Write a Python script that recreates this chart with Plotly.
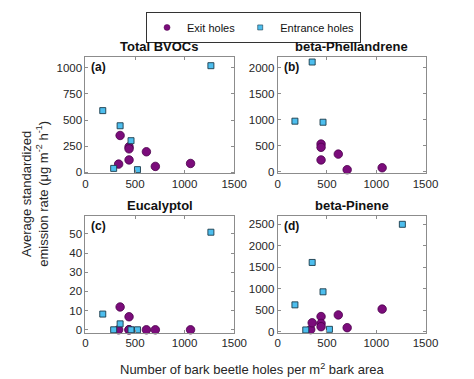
import plotly.graph_objects as go

exit_x = [335, 350, 440, 440, 440, 615, 705, 1060]
entr_x = [175, 285, 350, 460, 525, 1265]

exit_a = [78, 352, 243, 224, 118, 196, 56, 84]
entr_a = [590, 37, 445, 302, 25, 1020]

exit_b = [None, None, 536, 473, 231, 343, 44, 81]
entr_b = [975, None, 2110, 955, None, None]

exit_c = [0, 11.9, 6.8, 0, 0, 0, 0, 0]
entr_c = [8.2, 0, 3.1, 0, 0, 50.9]

exit_d = [46, 205, 350, 190, 114, 388, 91, 524]
entr_d = [623, 38, 1611, 927, 53, 2500]

titles = ["Total BVOCs", "beta-Phellandrene", "Eucalyptol", "beta-Pinene"]
labels = ["(a)", "(b)", "(c)", "(d)"]
yranges = [[-10, 1100], [-25, 2200], [-1.5, 59.5], [-25, 2700]]
ydticks = [250, 500, 10, 500]

W, H = 474, 379
xdoms = [[77 / W, 231 / W], [276 / W, 429 / W]]
ydoms = [[1 - 167.5 / H, 1 - 50 / H], [1 - 329 / H, 1 - 210.5 / H]]

PURPLE = "#7B0C7B"
BLUE = "#4DBEEE"
AX = "#8c8c8c"
TXT = "#262626"
FONT = "Liberation Sans, Arial, sans-serif"

exits = [exit_a, exit_b, exit_c, exit_d]
entrs = [entr_a, entr_b, entr_c, entr_d]

fig = go.Figure()
layout = {}
for i in range(4):
    r, c = divmod(i, 2)
    sfx = "" if i == 0 else str(i + 1)
    xa, ya = "x" + sfx, "y" + sfx
    fig.add_trace(go.Scatter(
        x=exit_x, y=exits[i], mode="markers", name="Exit holes",
        marker=dict(symbol="circle", size=8.5, color=PURPLE,
                    line=dict(color="#4a004a", width=0.8)),
        xaxis=xa, yaxis=ya, showlegend=False, cliponaxis=False))
    fig.add_trace(go.Scatter(
        x=entr_x, y=entrs[i], mode="markers", name="Entrance holes",
        marker=dict(symbol="square", size=6, color=BLUE,
                    line=dict(color="#1a3a4a", width=0.9)),
        xaxis=xa, yaxis=ya, showlegend=False, cliponaxis=False))
    common = dict(showgrid=False, zeroline=False, showline=True, linecolor=AX,
                  linewidth=1, mirror="allticks", ticks="inside", ticklen=3,
                  tickcolor=AX, tickfont=dict(size=11.5, color=TXT, family=FONT))
    layout["xaxis" + sfx] = dict(common, domain=xdoms[c], range=[0, 1500],
                                 tickmode="linear", tick0=0, dtick=500,
                                 anchor=ya)
    layout["yaxis" + sfx] = dict(common, domain=ydoms[r], range=yranges[i],
                                 tickmode="linear", tick0=0, dtick=ydticks[i],
                                 anchor=xa)

# legend-only entries with small markers, as in the reference
fig.add_trace(go.Scatter(x=[None], y=[None], mode="markers", name="Exit holes",
                         marker=dict(symbol="circle", size=6, color=PURPLE,
                                     line=dict(color="#4a004a", width=0.5))))
fig.add_trace(go.Scatter(x=[None], y=[None], mode="markers", name="Entrance holes",
                         marker=dict(symbol="square", size=5, color=BLUE,
                                     line=dict(color="#1a3a4a", width=0.6))))

annots = []
for i in range(4):
    r, c = divmod(i, 2)
    xc = (xdoms[c][0] + xdoms[c][1]) / 2
    annots.append(dict(text="<b>%s</b>" % titles[i], x=xc, y=ydoms[r][1],
                       xref="paper", yref="paper", xanchor="center",
                       yanchor="bottom", showarrow=False, yshift=1,
                       font=dict(size=13, color="#111111", family=FONT)))
    annots.append(dict(text="<b>%s</b>" % labels[i], x=xdoms[c][0], y=ydoms[r][1],
                       xref="paper", yref="paper", xanchor="left",
                       yanchor="top", showarrow=False, xshift=4, yshift=-1,
                       font=dict(size=12, color="#111111", family=FONT)))

annots.append(dict(text="Number of bark beetle holes per m<sup>2</sup> bark area",
                   x=250 / W, y=1 - 366 / H, xref="paper", yref="paper",
                   xanchor="center", yanchor="middle", showarrow=False,
                   font=dict(size=13, color=TXT, family=FONT)))
annots.append(dict(text="Average standardized<br>emission rate (μg m<sup>-2</sup> h<sup>-1</sup>)",
                   x=24 / W, y=1 - 188 / H, xref="paper", yref="paper",
                   xanchor="center", yanchor="middle", showarrow=False,
                   textangle=-90,
                   font=dict(size=13, color=TXT, family=FONT)))

fig.update_layout(
    **layout,
    annotations=annots,
    width=W, height=H,
    margin=dict(l=0, r=0, t=0, b=0),
    paper_bgcolor="white", plot_bgcolor="white",
    legend=dict(orientation="h", x=251 / W, y=1 - 4 / H, xanchor="center",
                yanchor="top", bordercolor="#333333", borderwidth=1,
                font=dict(size=11, color="#111111", family=FONT),
                itemwidth=30, tracegroupgap=0),
)

fig.write_html("out.html")
